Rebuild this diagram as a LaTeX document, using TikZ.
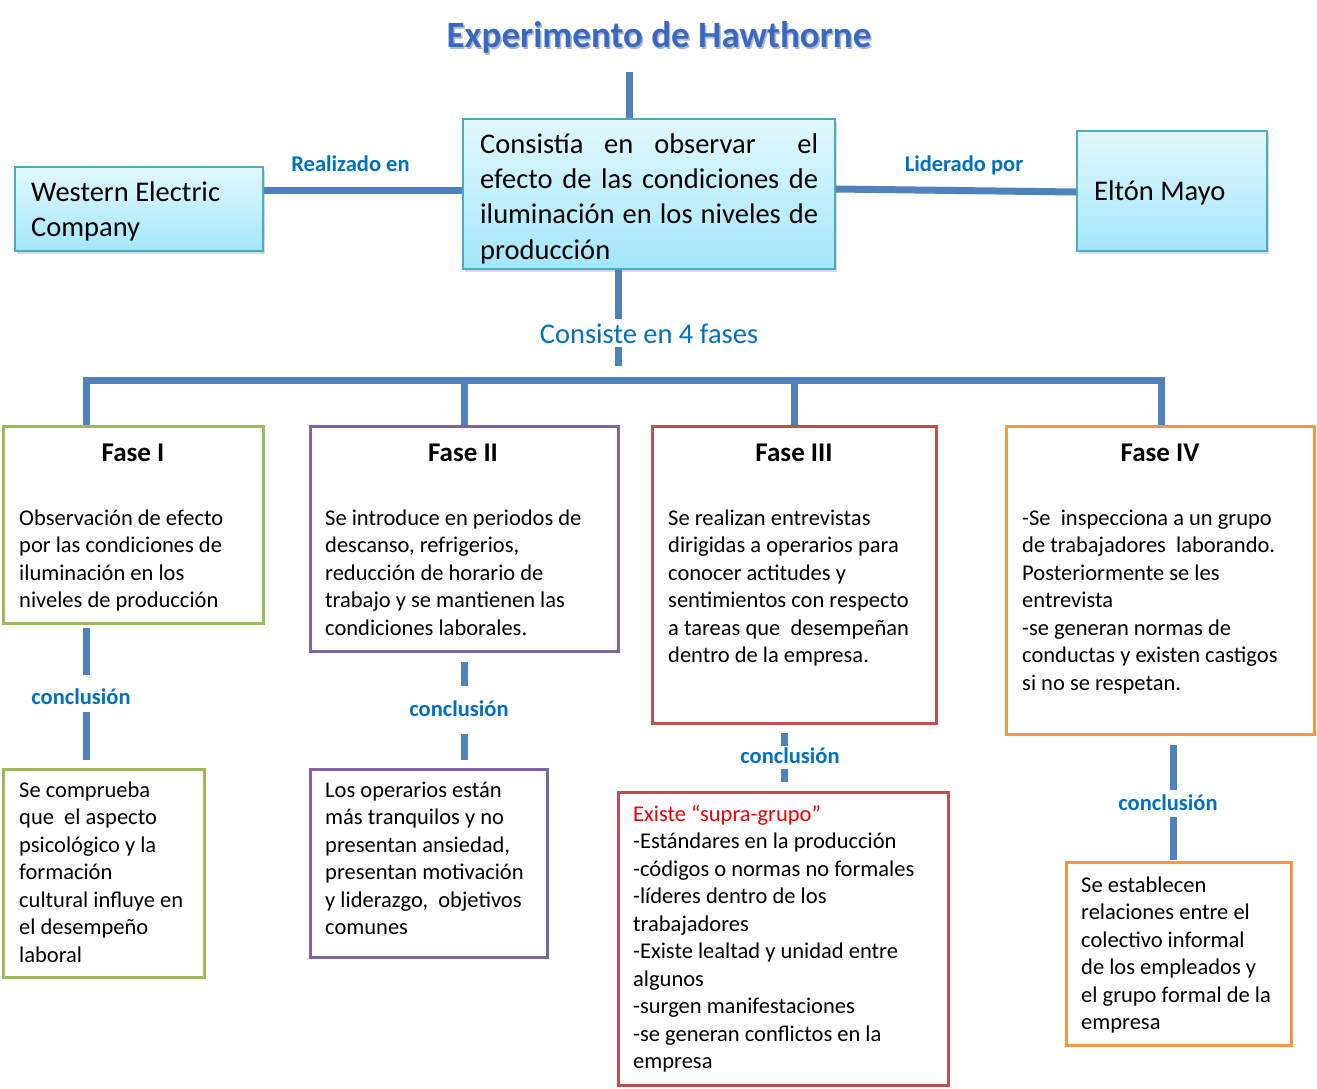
\documentclass[tikz,border=0pt]{standalone}
\usepackage{fontspec}
\setmainfont{Carlito}
\usetikzlibrary{shadows}
\definecolor{conn}{RGB}{79,129,189}
\definecolor{lbl}{RGB}{0,112,192}
\definecolor{topb}{RGB}{75,172,198}
\definecolor{topfa}{RGB}{226,248,254}
\definecolor{topfb}{RGB}{163,231,250}
\definecolor{cgreen}{RGB}{155,187,89}
\definecolor{cpurple}{RGB}{128,100,162}
\definecolor{cred}{RGB}{192,80,77}
\definecolor{corange}{RGB}{247,150,70}
\definecolor{ttl}{RGB}{58,104,192}
\definecolor{ttlsh}{RGB}{170,185,210}
\definecolor{supra}{RGB}{240,0,0}
\tikzset{
  connector/.style={draw=conn, line width=7pt, line join=miter},
  topbox/.style={draw=topb, line width=2pt, top color=topfa, bottom color=topfb, inner sep=0pt,
    drop shadow={shadow xshift=2pt, shadow yshift=-3pt, opacity=0.3}},
  fasebox/.style={fill=white, line width=3pt, inner sep=0pt},
  bodytxt/.style={anchor=north west, inner sep=0pt, align=left, font=\fontsize{22.5}{27.5}\selectfont},
  bigtxt/.style={anchor=north west, inner sep=0pt, align=left, font=\fontsize{28.5}{35.3}\selectfont},
  fasettl/.style={anchor=base, inner sep=0pt, font=\bfseries\fontsize{27}{32}\selectfont},
  lbltxt/.style={anchor=base, inner sep=0pt, text=lbl, font=\bfseries\fontsize{22.5}{27}\selectfont},
}
\begin{document}
\begin{tikzpicture}[x=1pt,y=-1pt]
\useasboundingbox (0,0) rectangle (1317,1088);

% title
\node[anchor=base, inner sep=0pt, text=ttlsh, font=\bfseries\fontsize{37}{44}\selectfont] (titlesh) at (660.5,49.5) {Experimento de Hawthorne};
\node[anchor=base, inner sep=0pt, text=ttl, font=\bfseries\fontsize{37}{44}\selectfont] (title) at (659,47.5) {Experimento de Hawthorne};

% top boxes
\node[topbox, minimum width=248pt, minimum height=84pt] (west) at (139,209) {};
\node[topbox, minimum width=372pt, minimum height=150pt] (cbox) at (649,194) {};
\node[topbox, minimum width=190pt, minimum height=120pt] (elton) at (1172,191) {};

\node[bigtxt] (westt) at (31,176.3) {\strut Western Electric\\Company};
\node[bigtxt] (cboxt) at (480,128.3) {\strut\makebox[338pt][s]{Consistía en observar \ el}\\
  \makebox[338pt][s]{efecto de las condiciones de}\\
  \makebox[338pt][s]{iluminación en los niveles de}\\
  producción};
\node[anchor=base west, inner sep=0pt, font=\fontsize{28.5}{35.3}\selectfont] (eltont) at (1094,200) {Eltón Mayo};

% top connectors
\coordinate (t1) at (629,72);
\draw[connector] (t1) -- (t1 |- cbox.north);
\coordinate (r1) at (0,190);
\draw[connector] (west.east |- r1) -- (cbox.west |- r1);
\coordinate (l1) at (0,189);
\coordinate (l2) at (0,192);
\draw[connector] (cbox.east |- l1) -- (elton.west |- l2);
\node[lbltxt] (realiz) at (350.5,171) {Realizado en};
\node[lbltxt] (lider) at (964,171) {Liderado por};

% down to bus
\coordinate (d1) at (618,319);
\coordinate (d2) at (618,347);
\coordinate (d3) at (618,366);
\draw[connector] (d1 |- cbox.south) -- (d1);
\draw[connector] (d2) -- (d3);
\node[anchor=base, inner sep=0pt, text=lbl, font=\fontsize{28.5}{34}\selectfont] (fases) at (649,343) {Consiste en 4 fases};

% fase boxes
\node[fasebox, draw=cgreen, minimum width=260pt, minimum height=197pt] (f1) at (133,524.5) {};
\node[fasebox, draw=cpurple, minimum width=308pt, minimum height=225pt] (f2) at (464,538.5) {};
\node[fasebox, draw=cred, minimum width=284pt, minimum height=297pt] (f3) at (794,574.5) {};
\node[fasebox, draw=corange, minimum width=308pt, minimum height=308pt] (f4) at (1160,580) {};

% bus
\coordinate (busL) at (86,380);
\coordinate (busR) at (1161,380);
\draw[connector] (busL |- f1.north) -- (busL) -- (busR) -- (busR |- f4.north);
\draw[connector] (f2.north |- busL) -- (f2.north);
\draw[connector] (f3.north |- busL) -- (f3.north);

% fase titles and texts
\node[fasettl] (f1h) at (133,461) {Fase I};
\node[fasettl] (f2h) at (463,461) {Fase II};
\node[fasettl] (f3h) at (794,461) {Fase III};
\node[fasettl] (f4h) at (1160,461) {Fase IV};

\node[bodytxt] (f1t) at (19,505.75) {\strut Observación de efecto\\por las condiciones de\\iluminación en los\\niveles de producción};
\node[bodytxt] (f2t) at (325,505.75) {\strut Se introduce en periodos de\\descanso, refrigerios,\\reducción de horario de\\trabajo y se mantienen las\\condiciones laborales.};
\node[bodytxt] (f3t) at (668,505.75) {\strut Se realizan entrevistas\\dirigidas a operarios para\\conocer actitudes y\\sentimientos con respecto\\a tareas que \ desempeñan\\dentro de la empresa.};
\node[bodytxt] (f4t) at (1022,505.75) {\strut -Se \ inspecciona a un grupo\\de trabajadores \ laborando.\\Posteriormente se les\\entrevista\\-se generan normas de\\conductas y existen castigos\\si no se respetan.};

% conclusion boxes
\node[fasebox, draw=cgreen, minimum width=201pt, minimum height=208pt] (c1) at (103.5,873) {};
\node[fasebox, draw=cpurple, minimum width=237pt, minimum height=188pt] (c2) at (428.5,863) {};
\node[fasebox, draw=cred, minimum width=330pt, minimum height=293pt] (c3) at (783,938.5) {};
\node[fasebox, draw=corange, minimum width=225pt, minimum height=183pt] (c4) at (1178.5,953.5) {};

\node[bodytxt] (c1t) at (19,777.75) {\strut Se comprueba\\que \ el aspecto\\psicológico y la\\formación\\cultural influye en\\el desempeño\\laboral};
\node[bodytxt] (c2t) at (325,777.75) {\strut Los operarios están\\más tranquilos y no\\presentan ansiedad,\\presentan motivación\\y liderazgo, \ objetivos\\comunes};
\node[bodytxt] (c3t) at (633,801.75) {\strut{\color{supra}Existe “supra-grupo”}\\-Estándares en la producción\\-códigos o normas no formales\\-líderes dentro de los\\trabajadores\\-Existe lealtad y unidad entre\\algunos\\-surgen manifestaciones\\-se generan conflictos en la\\empresa};
\node[bodytxt] (c4t) at (1081,872.75) {\strut Se establecen\\relaciones entre el\\colectivo informal\\de los empleados y\\el grupo formal de la\\empresa};

% conclusion connectors
\coordinate (k1a) at (86,628); \coordinate (k1b) at (86,675);
\coordinate (k1c) at (86,712); \coordinate (k1d) at (86,760);
\draw[connector] (k1a) -- (k1b);
\draw[connector] (k1c) -- (k1d);
\node[lbltxt] (con1) at (81,704) {conclusión};

\coordinate (k2a) at (464,662); \coordinate (k2b) at (464,686);
\coordinate (k2c) at (464,734); \coordinate (k2d) at (464,760);
\draw[connector] (k2a) -- (k2b);
\draw[connector] (k2c) -- (k2d);
\node[lbltxt] (con2) at (459,716) {conclusión};

\coordinate (k3a) at (784,733); \coordinate (k3b) at (784,746);
\coordinate (k3c) at (784,769); \coordinate (k3d) at (784,782);
\draw[connector] (k3a) -- (k3b);
\draw[connector] (k3c) -- (k3d);
\node[lbltxt] (con3) at (790,763) {conclusión};

\coordinate (k4a) at (1173,745); \coordinate (k4b) at (1173,790);
\coordinate (k4c) at (1173,817); \coordinate (k4d) at (1173,860);
\draw[connector] (k4a) -- (k4b);
\draw[connector] (k4c) -- (k4d);
\node[lbltxt] (con4) at (1168,810) {conclusión};
\end{tikzpicture}
\end{document}
